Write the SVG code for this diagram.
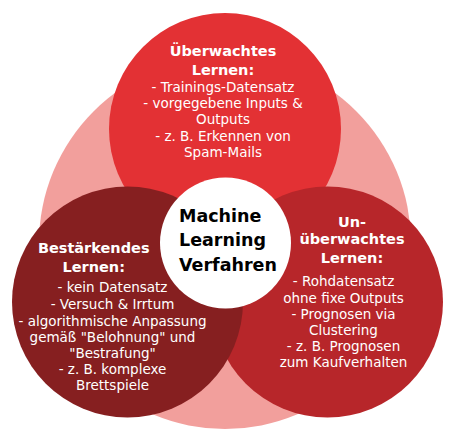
<svg xmlns="http://www.w3.org/2000/svg" width="455" height="442" viewBox="0 0 455 442">
<style>
.t{font-family:"DejaVu Sans",Verdana,sans-serif;font-weight:bold;font-size:14.5px;fill:#fff;text-anchor:middle}
.b{font-family:"DejaVu Sans",Verdana,sans-serif;font-size:13.5px;fill:#fff;text-anchor:middle}
.c{font-family:"DejaVu Sans",Verdana,sans-serif;font-weight:bold;font-size:17.5px;fill:#000}
</style>
<rect width="455" height="442" fill="#fff"/>
<g id="background"><circle cx="225" cy="243" r="186" fill="#F29F9C"/></g>
<g id="supervised">
<circle cx="225" cy="129" r="116" fill="#E33134"/>
<text class="t" x="223" y="56">Überwachtes</text>
<text class="t" x="223" y="75">Lernen:</text>
<text class="b" x="223" y="91.7">- Trainings-Datensatz</text>
<text class="b" x="223" y="107.5">- vorgegebene Inputs &amp;</text>
<text class="b" x="223" y="123.5">Outputs</text>
<text class="b" x="223" y="140.5">- z. B. Erkennen von</text>
<text class="b" x="223" y="156.7">Spam-Mails</text>
</g>
<g id="unsupervised">
<circle cx="327.5" cy="302" r="115.5" fill="#B7262A"/>
<text class="t" x="352" y="226.7">Un-</text>
<text class="t" x="352" y="244.3">überwachtes</text>
<text class="t" x="352" y="262.7">Lernen:</text>
<text class="b" x="343.5" y="286">- Rohdatensatz</text>
<text class="b" x="343.5" y="302.5">ohne fixe Outputs</text>
<text class="b" x="343.5" y="318.7">- Prognosen via</text>
<text class="b" x="343.5" y="334.7">Clustering</text>
<text class="b" x="343.5" y="350.7">- z. B. Prognosen</text>
<text class="b" x="343.5" y="367.3">zum Kaufverhalten</text>
</g>
<g id="reinforcement">
<circle cx="127.5" cy="302" r="115.5" fill="#861F20"/>
<text class="t" x="93.7" y="253">Bestärkendes</text>
<text class="t" x="93.7" y="271.7">Lernen:</text>
<text class="b" x="112.5" y="292">- kein Datensatz</text>
<text class="b" x="112.5" y="309">- Versuch &amp; Irrtum</text>
<text class="b" x="112.5" y="325.7">- algorithmische Anpassung</text>
<text class="b" x="112.5" y="341.7">gemäß "Belohnung" und</text>
<text class="b" x="112.5" y="358">"Bestrafung"</text>
<text class="b" x="112.5" y="374">- z. B. komplexe</text>
<text class="b" x="112.5" y="390">Brettspiele</text>
</g>
<g id="center">
<circle cx="225.5" cy="243" r="65.5" fill="#fff"/>
<text class="c" x="179" y="221.7">Machine</text>
<text class="c" x="179" y="246">Learning</text>
<text class="c" x="179" y="270.7">Verfahren</text>
</g>
<g id="connectors"/>
</svg>
